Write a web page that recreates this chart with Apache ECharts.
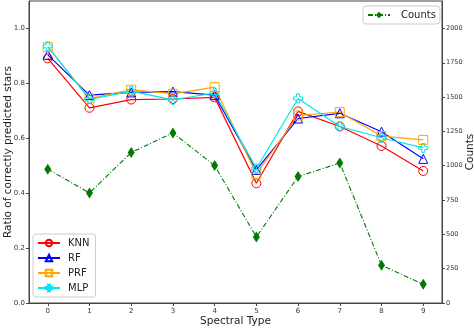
<!DOCTYPE html>
<html>
<head>
<meta charset="utf-8">
<script src="https://cdn.jsdelivr.net/npm/echarts@6/dist/echarts.min.js"></script>
<style>
  html, body { margin: 0; padding: 0; background: #fff; }
  #chart { width: 474px; height: 328px; }
</style>
</head>
<body>
<div id="chart"></div>
<script>
// spectral types on the x axis
const spectralTypes = [0, 1, 2, 3, 4, 5, 6, 7, 8, 9];

// ratio of correctly predicted stars (left axis)
const knn = [0.891, 0.711, 0.741, 0.743, 0.749, 0.436, 0.698, 0.643, 0.572, 0.481];
const rf  = [0.904, 0.757, 0.767, 0.770, 0.757, 0.485, 0.672, 0.691, 0.624, 0.525];
const prf = [0.932, 0.745, 0.777, 0.762, 0.786, 0.470, 0.683, 0.695, 0.608, 0.594];
const mlp = [0.935, 0.742, 0.772, 0.740, 0.765, 0.490, 0.745, 0.643, 0.602, 0.565];

// number of stars per type (right axis)
const counts = [975, 802, 1096, 1239, 1001, 481, 921, 1020, 275, 136];

const ratioTicks = [0, 0.2, 0.4, 0.6, 0.8, 1.0];
const countTicks = [0, 250, 500, 750, 1000, 1250, 1500, 1750, 2000];

const FONT = 'DejaVu Sans';
const AXIS = '#444';
const PLUS = 'path://M1,0 L2,0 L2,1 L3,1 L3,2 L2,2 L2,3 L1,3 L1,2 L0,2 L0,1 L1,1 Z';

const pairs = ys => spectralTypes.map((x, i) => [x, ys[i]]);

function hollowLine(name, ys, color, symbol, size) {
  return {
    name,
    type: 'line',
    data: pairs(ys),
    symbol,
    symbolSize: size,
    lineStyle: { color, width: 1.2 },
    itemStyle: { color: 'rgba(255,255,255,0)', borderColor: color, borderWidth: 1 },
    emphasis: { disabled: true },
    z: 2,
  };
}

const chart = echarts.init(document.getElementById('chart'));

chart.setOption({
  animation: false,
  textStyle: { fontFamily: FONT },
  grid: {
    left: 29, right: 32, top: 1, bottom: 25,
    containLabel: false, outerBoundsMode: 'none',
    show: true, borderColor: AXIS, borderWidth: 1, backgroundColor: '#fff',
  },
  legend: [
    {
      data: ['KNN', 'RF', 'PRF', 'MLP'],
      orient: 'vertical',
      left: 33, top: 234,
      padding: [3, 4],
      itemGap: 3,
      itemWidth: 22, itemHeight: 8,
      backgroundColor: 'rgba(255,255,255,0.8)',
      borderColor: '#ccc', borderWidth: 1, borderRadius: 3,
      textStyle: { fontFamily: FONT, fontSize: 10, color: '#222', lineHeight: 12, padding: [0, 2, 0, 3] },
    },
    {
      data: ['Counts'],
      left: 363, top: 6,
      padding: [3, 4],
      itemWidth: 22, itemHeight: 8,
      backgroundColor: 'rgba(255,255,255,0.8)',
      borderColor: '#ccc', borderWidth: 1, borderRadius: 3,
      textStyle: { fontFamily: FONT, fontSize: 10, color: '#222', lineHeight: 12, padding: [0, 0, 0, 6] },
    },
  ],
  xAxis: {
    type: 'value',
    min: -0.45, max: 9.45,
    name: 'Spectral Type',
    nameLocation: 'middle',
    nameGap: 13,
    nameMoveOverlap: false,
    nameTextStyle: { fontFamily: FONT, fontSize: 10.5, color: '#222' },
    axisLine: { onZero: false, lineStyle: { color: AXIS } },
    axisTick: { length: 3, lineStyle: { color: AXIS }, customValues: spectralTypes },
    axisLabel: { fontSize: 7, color: '#333', margin: 5, customValues: spectralTypes },
    splitLine: { show: false },
  },
  yAxis: [
    {
      type: 'value',
      min: 0, max: 1.1,
      name: 'Ratio of correctly predicted stars',
      nameLocation: 'middle',
      nameRotate: 90,
      nameGap: 15,
      nameMoveOverlap: false,
      nameTextStyle: { fontFamily: FONT, fontSize: 10.5, color: '#222' },
      axisLine: { show: true, onZero: false, lineStyle: { color: AXIS } },
      axisTick: { show: true, length: 3, lineStyle: { color: AXIS }, customValues: ratioTicks },
      axisLabel: { fontSize: 7, color: '#333', margin: 4, customValues: ratioTicks, formatter: v => v.toFixed(1) },
      splitLine: { show: false },
    },
    {
      type: 'value',
      min: 0, max: 2200,
      position: 'right',
      name: 'Counts',
      nameLocation: 'middle',
      nameRotate: 90,
      nameGap: 23,
      nameMoveOverlap: false,
      nameTextStyle: { fontFamily: FONT, fontSize: 10.5, color: '#222' },
      axisLine: { show: true, onZero: false, lineStyle: { color: AXIS } },
      axisTick: { show: true, length: 3, lineStyle: { color: AXIS }, customValues: countTicks },
      axisLabel: { fontSize: 6.5, color: '#333', margin: 4, customValues: countTicks, formatter: v => String(v) },
      splitLine: { show: false },
    },
  ],
  series: [
    hollowLine('KNN', knn, '#ff0000', 'circle', 9),
    hollowLine('RF', rf, '#0000ff', 'triangle', 9),
    hollowLine('PRF', prf, '#ffa500', 'rect', 9),
    hollowLine('MLP', mlp, '#00e5ee', PLUS, 9),
    {
      name: 'Counts',
      type: 'line',
      yAxisIndex: 1,
      data: pairs(counts),
      symbol: 'diamond',
      symbolSize: [7, 11],
      lineStyle: { color: '#007a00', width: 1.1, type: [5, 2, 1, 2] },
      itemStyle: { color: '#007a00' },
      emphasis: { disabled: true },
      z: 3,
    },
  ],
});
</script>
</body>
</html>
